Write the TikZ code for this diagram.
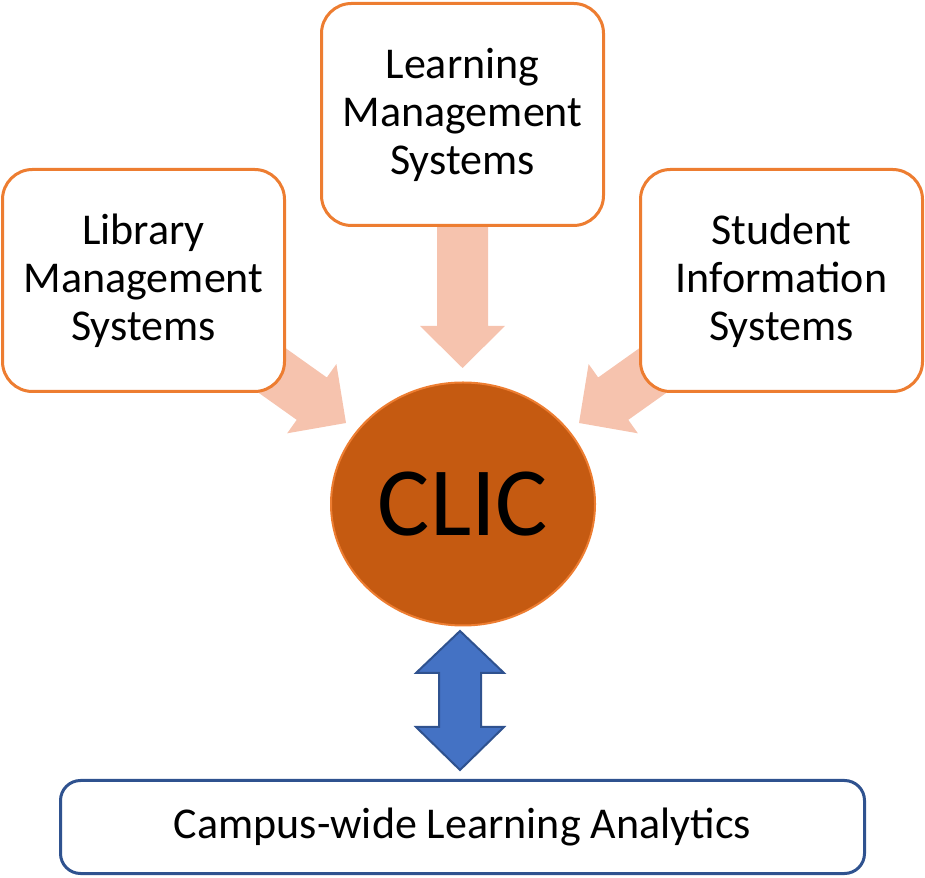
\documentclass[tikz,border=0pt]{standalone}
\usepackage{fontspec}
\setmainfont{Carlito}
\usetikzlibrary{shapes.geometric}
\definecolor{orangeline}{HTML}{ED7D31}
\definecolor{clicfill}{HTML}{C55A11}
\definecolor{pinkarrow}{HTML}{F6C3AE}
\definecolor{bluefill}{HTML}{4472C4}
\definecolor{blueline}{HTML}{2F528F}
\tikzset{
  srcbox/.style={draw=orangeline, line width=3pt, fill=white, rounded corners=30pt,
    minimum width=282pt, minimum height=222pt, inner sep=0pt, align=center,
    font=\fontsize{44}{48}\selectfont},
  blockarr/.style={fill=pinkarrow},
  clicnode/.style={ellipse, draw=orangeline, line width=2pt, fill=clicfill,
    minimum width=264pt, minimum height=243pt, inner sep=0pt,
    font=\fontsize{98}{100}\selectfont},
  targetbox/.style={draw=blueline, line width=3pt, fill=white, rounded corners=20pt,
    minimum width=804pt, minimum height=93pt, inner sep=0pt,
    font=\fontsize{44}{48}\selectfont},
  dblarr/.style={fill=bluefill, draw=blueline, line width=2pt, line join=miter}
}
\begin{document}
\begin{tikzpicture}[x=1pt,y=1pt]
\useasboundingbox (0,0) rectangle (925,877);
% pink block arrows (behind the boxes)
\begin{scope}[shift={(462.5,509)}, rotate=-90]
  \fill[blockarr] (0,0) -- (-42,42.5) -- (-42,25.5) -- (-200,25.5) -- (-200,-25.5) -- (-42,-25.5) -- (-42,-42.5) -- cycle;
\end{scope}
\begin{scope}[shift={(346,454)}, rotate=-35.4]
  \fill[blockarr] (0,0) -- (-42,42.5) -- (-42,26) -- (-150,26) -- (-150,-26) -- (-42,-26) -- (-42,-42.5) -- cycle;
\end{scope}
\begin{scope}[shift={(579,454)}, rotate=215.4]
  \fill[blockarr] (0,0) -- (-42,42.5) -- (-42,26) -- (-150,26) -- (-150,-26) -- (-42,-26) -- (-42,-42.5) -- cycle;
\end{scope}
% source boxes
\node[srcbox] (lms) at (462.5,762.5) {Learning\\Management\\Systems};
\node[srcbox] (lib) at (143.5,596.5) {Library\\Management\\Systems};
\node[srcbox] (sis) at (781.5,596.5) {Student\\Information\\Systems};
% CLIC
\node[clicnode] (clic) at (463,373) {CLIC};
% bottom box
\node[targetbox] (cwla) at (462.5,50) {Campus-wide Learning Analytics};
% double arrow
\draw[dblarr] (460,246) -- (416,204) -- (439,204) -- (439,150) -- (416,150) -- (460,107)
  -- (504,150) -- (481,150) -- (481,204) -- (504,204) -- cycle;
\end{tikzpicture}
\end{document}
